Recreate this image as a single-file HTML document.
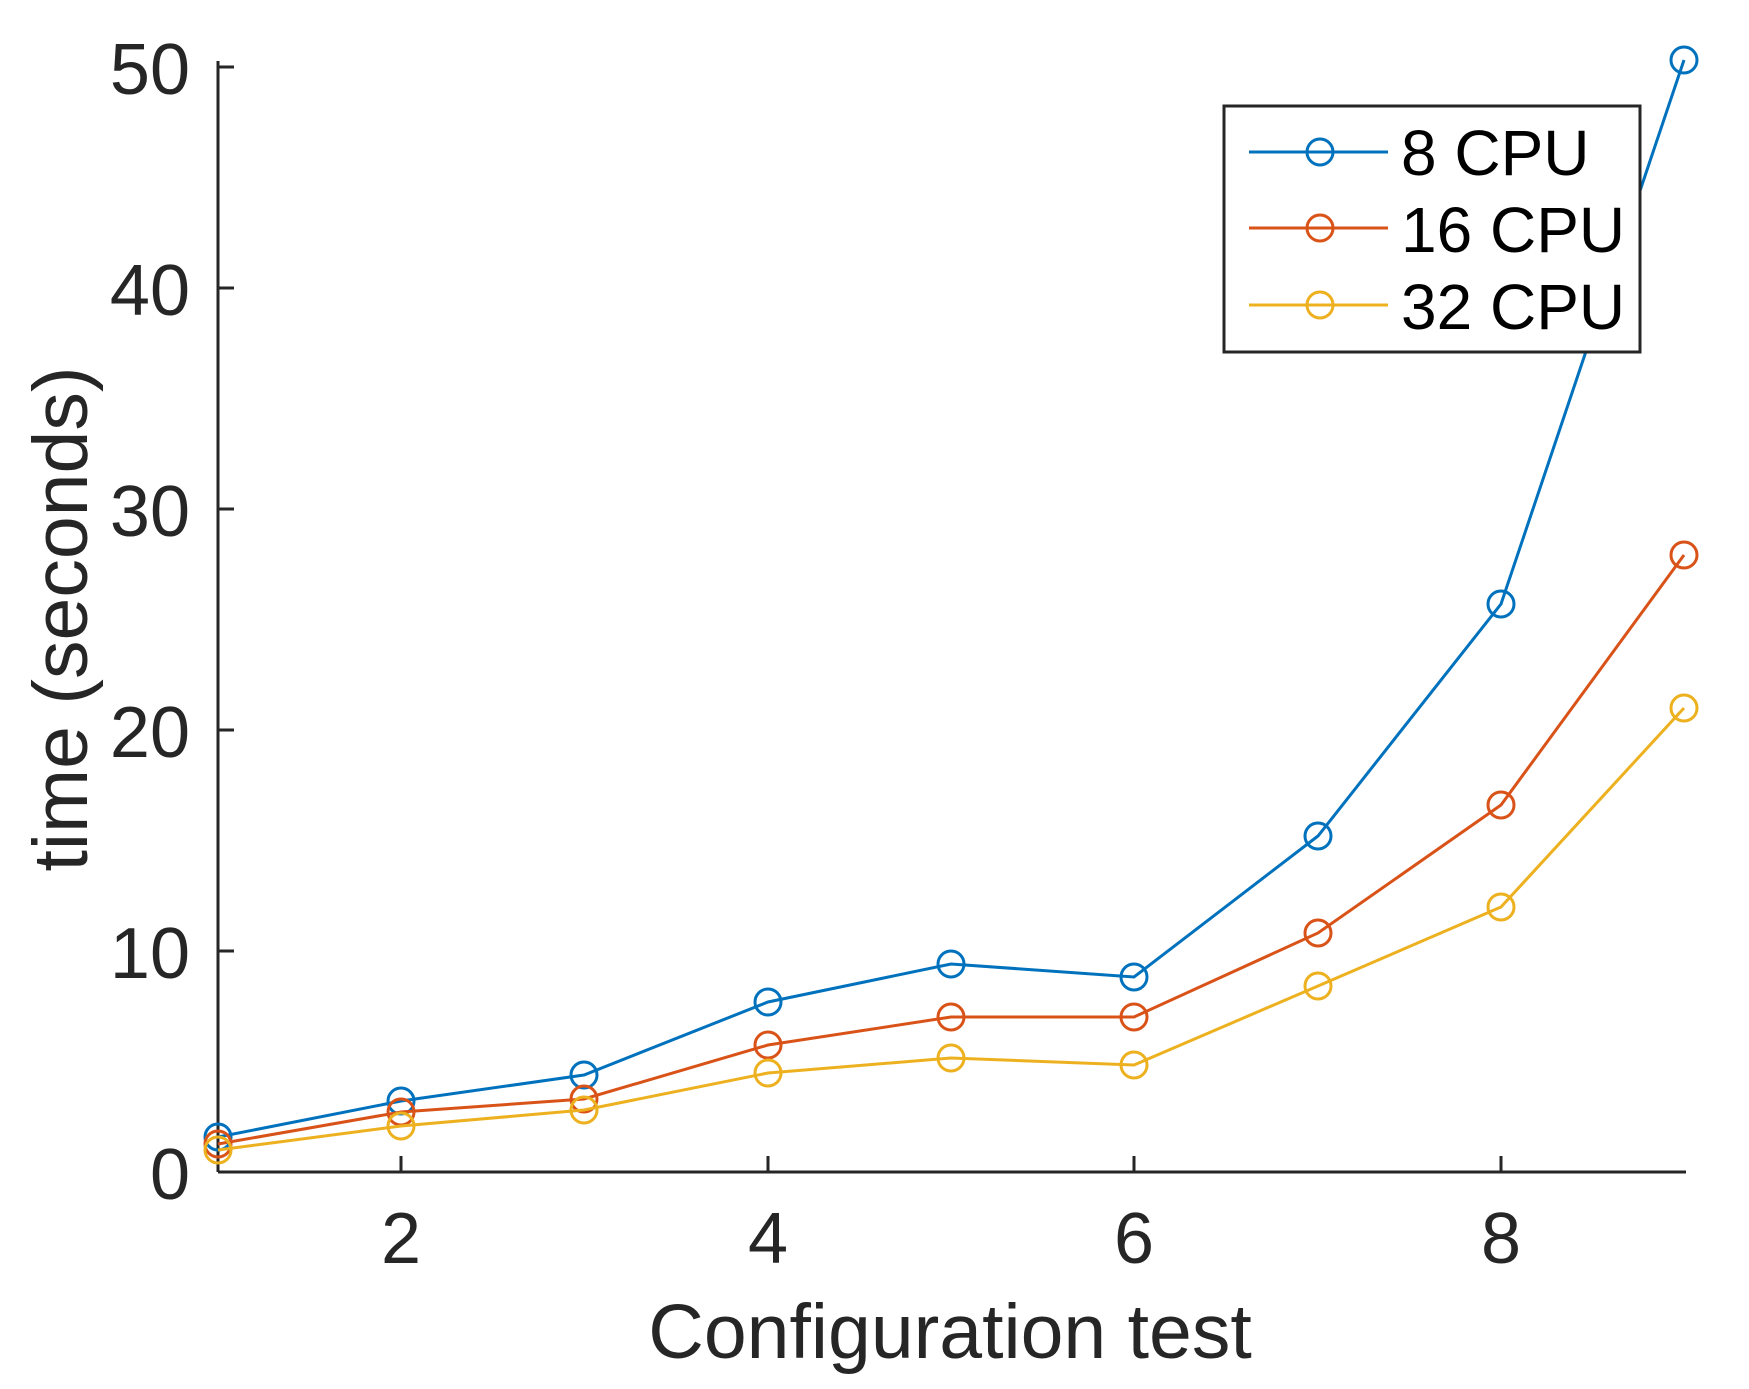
<!DOCTYPE html>
<html><head><style>body{margin:0;background:#fff}svg{display:block}text{font-family:"Liberation Sans",sans-serif}</style></head><body>
<svg width="1749" height="1389" viewBox="0 0 1749 1389" xmlns="http://www.w3.org/2000/svg">
<g stroke="#262626" stroke-width="3" fill="none">
<line x1="218" y1="61" x2="218" y2="1172"/>
<line x1="218" y1="1172" x2="1686" y2="1172"/>
<line x1="218" y1="67" x2="234" y2="67"/>
<line x1="218" y1="288" x2="234" y2="288"/>
<line x1="218" y1="509" x2="234" y2="509"/>
<line x1="218" y1="730" x2="234" y2="730"/>
<line x1="218" y1="951" x2="234" y2="951"/>
<line x1="218" y1="1172" x2="234" y2="1172"/>
<line x1="401" y1="1172" x2="401" y2="1156"/>
<line x1="768" y1="1172" x2="768" y2="1156"/>
<line x1="1134" y1="1172" x2="1134" y2="1156"/>
<line x1="1501" y1="1172" x2="1501" y2="1156"/>
</g>
<g fill="#262626" font-size="72" text-anchor="end">
<text x="190" y="94">50</text>
<text x="190" y="315">40</text>
<text x="190" y="536">30</text>
<text x="190" y="757">20</text>
<text x="190" y="978">10</text>
<text x="190" y="1199">0</text>
</g>
<g fill="#262626" font-size="72" text-anchor="middle">
<text x="401" y="1263">2</text>
<text x="768" y="1263">4</text>
<text x="1134" y="1263">6</text>
<text x="1501" y="1263">8</text>
</g>
<g fill="#262626" font-size="77" text-anchor="middle">
<text x="950" y="1358">Configuration test</text>
<text transform="translate(87,619) rotate(-90)">time (seconds)</text>
</g>
<g fill="none" stroke-width="3">
<g stroke="#0072BD">
<polyline points="218,1137 401,1101 584,1075 768,1002 951,964 1134,977 1318,836 1501,604 1684,60"/>
<circle cx="218" cy="1137" r="13"/><circle cx="401" cy="1101" r="13"/><circle cx="584" cy="1075" r="13"/><circle cx="768" cy="1002" r="13"/><circle cx="951" cy="964" r="13"/><circle cx="1134" cy="977" r="13"/><circle cx="1318" cy="836" r="13"/><circle cx="1501" cy="604" r="13"/><circle cx="1684" cy="60" r="13"/>
</g>
<g stroke="#D95319">
<polyline points="218,1144 401,1112 584,1099 768,1045 951,1017 1134,1017 1318,933 1501,805 1684,555"/>
<circle cx="218" cy="1144" r="13"/><circle cx="401" cy="1112" r="13"/><circle cx="584" cy="1099" r="13"/><circle cx="768" cy="1045" r="13"/><circle cx="951" cy="1017" r="13"/><circle cx="1134" cy="1017" r="13"/><circle cx="1318" cy="933" r="13"/><circle cx="1501" cy="805" r="13"/><circle cx="1684" cy="555" r="13"/>
</g>
<g stroke="#EDB120">
<polyline points="218,1150 401,1126 584,1110 768,1073 951,1058 1134,1065 1318,986 1501,907 1684,708"/>
<circle cx="218" cy="1150" r="13"/><circle cx="401" cy="1126" r="13"/><circle cx="584" cy="1110" r="13"/><circle cx="768" cy="1073" r="13"/><circle cx="951" cy="1058" r="13"/><circle cx="1134" cy="1065" r="13"/><circle cx="1318" cy="986" r="13"/><circle cx="1501" cy="907" r="13"/><circle cx="1684" cy="708" r="13"/>
</g>
</g>
<rect x="1224" y="106" width="416" height="246" fill="#fff" stroke="#262626" stroke-width="3"/>
<g fill="none" stroke-width="3">
<line x1="1249" y1="152" x2="1388" y2="152" stroke="#0072BD"/><circle cx="1320" cy="152" r="13" stroke="#0072BD"/>
<line x1="1249" y1="228" x2="1388" y2="228" stroke="#D95319"/><circle cx="1320" cy="228" r="13" stroke="#D95319"/>
<line x1="1249" y1="305" x2="1388" y2="305" stroke="#EDB120"/><circle cx="1320" cy="305" r="13" stroke="#EDB120"/>
</g>
<g fill="#000" font-size="64">
<text x="1401" y="175">8 CPU</text>
<text x="1401" y="252">16 CPU</text>
<text x="1401" y="329">32 CPU</text>
</g>
</svg>
</body></html>
